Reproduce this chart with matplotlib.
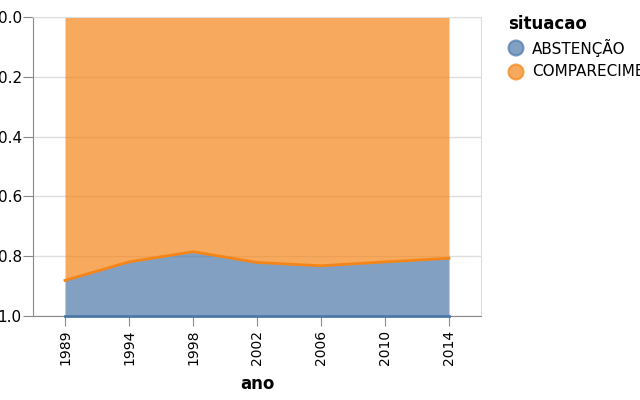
import matplotlib.pyplot as plt
from matplotlib.patches import Ellipse
import numpy as np

# data (fractions)
anos = ['1989', '1994', '1998', '2002', '2006', '2010', '2014']
abstencao = [0.119, 0.181, 0.215, 0.179, 0.168, 0.181, 0.193]
comparecimento = [0.881, 0.819, 0.785, 0.821, 0.832, 0.819, 0.807]
situacoes = ['ABSTENÇÃO', 'COMPARECIMENTO']
cores = ['#4c78a8', '#f58518']

plt.rcParams['font.family'] = ['DejaVu Sans']

fig = plt.figure(figsize=(6.4, 4.0), dpi=100)
ax = fig.add_axes([33/640, 84/400, 448/640, 299/400])

x = np.arange(len(anos))
total = np.array(abstencao) + np.array(comparecimento)
comp_top = np.array(comparecimento) / total
abst_top = comp_top + np.array(abstencao) / total

ax.fill_between(x, 0, comp_top, color=cores[1], alpha=0.7, lw=0, zorder=2)
ax.fill_between(x, comp_top, abst_top, color=cores[0], alpha=0.7, lw=0, zorder=2)
ax.plot(x, comp_top, color=cores[1], lw=2, zorder=3)
ax.plot(x, abst_top, color=cores[0], lw=2, zorder=3, clip_on=False)

ax.set_xlim(-0.5, len(anos) - 0.5)
ax.set_ylim(1.0, 0.0)
ax.set_yticks([0.0, 0.2, 0.4, 0.6, 0.8, 1.0])
ax.set_yticklabels(['0.0', '0.2', '0.4', '0.6', '0.8', '1.0'])
ax.set_xticks(x)
ax.set_xticklabels(anos, rotation=90)
ax.tick_params(axis='both', length=7, color='#888888')
ax.tick_params(axis='x', labelsize=10, pad=3)
ax.tick_params(axis='y', labelsize=11, pad=1)
ax.grid(axis='y', color='#dddddd', lw=1, zorder=0)
ax.set_axisbelow(True)

for s in ['left', 'bottom']:
    ax.spines[s].set_color('#888888')
for s in ['top', 'right']:
    ax.spines[s].set_color('#dddddd')

ax.set_xlabel('ano', fontsize=12, fontweight='bold', labelpad=7)

# legend
fig.text(508/640, 1 - 24/400, 'situacao', fontsize=12, fontweight='bold', va='center')
for i, nome in enumerate(situacoes):
    yy = 1 - (48 + 24*i)/400
    fig.patches.append(Ellipse((516/640, yy), 15/640, 15/400, transform=fig.transFigure,
                               facecolor=cores[i], alpha=0.7, edgecolor=cores[i], lw=1.5))
    fig.text(532/640, yy, nome, fontsize=11, va='center')

fig.savefig('out.png', dpi=100)
